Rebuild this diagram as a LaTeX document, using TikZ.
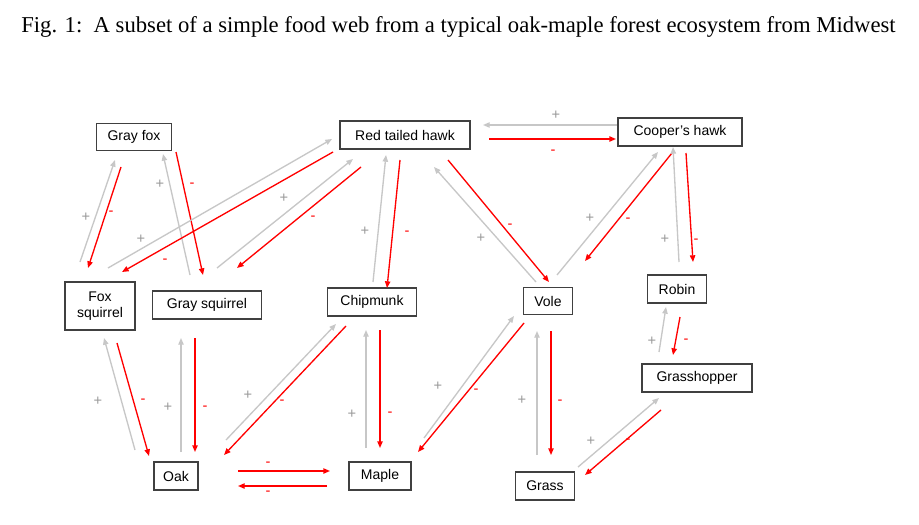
\documentclass[tikz,border=0pt]{standalone}
\usepackage{fontspec}
\setmainfont{Liberation Sans}
\newfontfamily\titlefont{Liberation Serif}
\usetikzlibrary{arrows.meta}
\begin{document}
\begin{tikzpicture}[x=0.75pt,y=-0.75pt,
  box/.style={draw=black!75,line width=0.9pt,fill=white,inner sep=3pt,font=\fontsize{10.5}{12.5}\selectfont,align=center},
  posarr/.style={draw=black!22,line width=1pt,-{Triangle[length=5pt,width=4pt]}},
  negarr/.style={draw=red,line width=1pt,-{Triangle[length=5pt,width=4pt]}},
  pl/.style={text=black!40,font=\fontsize{11}{11}\selectfont,inner sep=0pt},
  mi/.style={text=red,font=\fontsize{11}{11}\selectfont,inner sep=0pt}]
\fill[white] (0,0) rectangle (919,524);
\useasboundingbox (0,0) rectangle (919,524);
\node[anchor=west,font=\titlefont\fontsize{17}{19}\selectfont,inner sep=0pt] (title) at (21,27) {Fig. 1:\ \ A subset of a simple food web from a typical oak-maple forest ecosystem from Midwest};
% nodes
\node[box,minimum width=75*0.75pt,minimum height=27*0.75pt] (gfox) at (134,137) {Gray fox};
\node[box,minimum width=130*0.75pt,minimum height=28*0.75pt] (rth) at (405,135) {Red tailed hawk};
\node[box,minimum width=124*0.75pt,minimum height=28*0.75pt] (coop) at (680,132) {Cooper's hawk};
\node[box,minimum width=70*0.75pt,minimum height=48*0.75pt] (fsq) at (100,306) {Fox\\squirrel};
\node[box,minimum width=109*0.75pt,minimum height=28*0.75pt] (gsq) at (207,305) {Gray squirrel};
\node[box,minimum width=89*0.75pt,minimum height=28*0.75pt] (chip) at (372,302) {Chipmunk};
\node[box,minimum width=49*0.75pt,minimum height=27*0.75pt] (vole) at (548,301) {Vole};
\node[box,minimum width=59*0.75pt,minimum height=28*0.75pt] (robin) at (677,289) {Robin};
\node[box,minimum width=110*0.75pt,minimum height=28*0.75pt] (ghop) at (697,378) {Grasshopper};
\node[box,minimum width=44*0.75pt,minimum height=28*0.75pt] (oak) at (176,476) {Oak};
\node[box,minimum width=62*0.75pt,minimum height=28*0.75pt] (maple) at (380,476) {Maple};
\node[box,minimum width=59*0.75pt,minimum height=28*0.75pt] (grass) at (545,486) {Grass};
% top
\draw[posarr] (80,262) -- (115,160); \node[pl] at (86,217) {+};
\draw[negarr] (121,167) -- (88,268); \node[mi] at (111,213) {-};
\draw[posarr] (190,275) -- (163,154); \node[pl] at (160,184) {+};
\draw[negarr] (176,152) -- (203,275); \node[mi] at (192,185) {-};
\draw[posarr] (108,268) -- (332,139); \node[pl] at (141,239) {+};
\draw[negarr] (333,152) -- (122,272); \node[mi] at (165,261) {-};
\draw[posarr] (217,268) -- (353,159); \node[pl] at (284,198) {+};
\draw[negarr] (361,167) -- (237,268); \node[mi] at (313,218) {-};
\draw[posarr] (373,282) -- (386,155); \node[pl] at (365,231) {+};
\draw[negarr] (400,160) -- (387,288); \node[mi] at (407,233) {-};
\draw[posarr] (617,125) -- (483,125); \node[pl] at (556,115) {+};
\draw[negarr] (489,139) -- (616,139); \node[mi] at (553,152) {-};
\draw[posarr] (536,282) -- (434,167); \node[pl] at (481,238) {+};
\draw[negarr] (448,160) -- (549,282); \node[mi] at (510,226) {-};
\draw[posarr] (557,275) -- (658,152); \node[pl] at (590,218) {+};
\draw[negarr] (672,153) -- (585,261); \node[mi] at (628,220) {-};
\draw[posarr] (679,262) -- (673,147); \node[pl] at (665,239) {+};
\draw[negarr] (686,153) -- (693,262); \node[mi] at (696,241) {-};
% bottom
\draw[posarr] (135,450) -- (104,338); \node[pl] at (98,401) {+};
\draw[negarr] (117,343) -- (149,456); \node[mi] at (143,401) {-};
\draw[posarr] (181,452) -- (181,338); \node[pl] at (168,407) {+};
\draw[negarr] (195,338) -- (195,452); \node[mi] at (205,408) {-};
\draw[posarr] (226,440) -- (336,324); \node[pl] at (248,395) {+};
\draw[negarr] (346,326) -- (224,455); \node[mi] at (282,402) {-};
\draw[posarr] (366,448) -- (366,330); \node[pl] at (352,414) {+};
\draw[negarr] (380,330) -- (380,448); \node[mi] at (390,414) {-};
\draw[negarr] (238,471) -- (330,471); \node[mi] at (268,464) {-};
\draw[negarr] (327,486) -- (238,486); \node[mi] at (268,493) {-};
\draw[posarr] (424,438) -- (514,316); \node[pl] at (438,386) {+};
\draw[negarr] (524,323) -- (418,452); \node[mi] at (476,391) {-};
\draw[posarr] (537,455) -- (537,331); \node[pl] at (522,400) {+};
\draw[negarr] (551,331) -- (551,455); \node[mi] at (560,402) {-};
\draw[posarr] (659,352) -- (666,307); \node[pl] at (652,341) {+};
\draw[negarr] (680,317) -- (673,355); \node[mi] at (686,341) {-};
\draw[posarr] (578,467) -- (659,398); \node[pl] at (591,441) {+};
\draw[negarr] (661,410) -- (585,475); \node[mi] at (628,441) {-};
\end{tikzpicture}
\end{document}
